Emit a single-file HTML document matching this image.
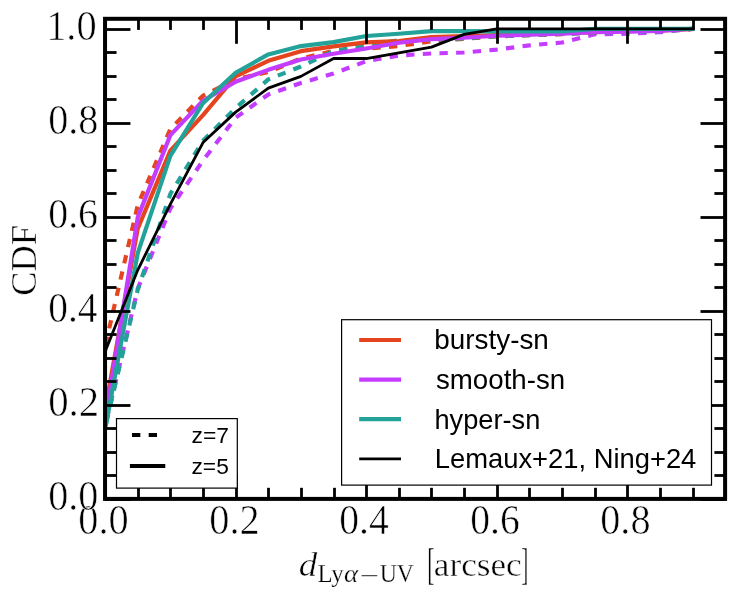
<!DOCTYPE html>
<html lang="en"><head><meta charset="utf-8"><title>CDF of Lyα–UV offsets</title>
<style>html,body{margin:0;padding:0;background:#fff}body{width:735px;height:597px;overflow:hidden}svg{display:block}.lb{font-family:"Liberation Serif",serif;fill:#000;stroke:#fff;stroke-width:0.6px}.lg{font-family:"Liberation Sans",sans-serif;fill:#000}</style></head><body>
<svg width="735" height="597" viewBox="0 0 735 597">
<rect x="0" y="0" width="735" height="597" fill="#fff"/>
<defs><clipPath id="ax"><rect x="105.05" y="18.8" width="620.0500000000001" height="480.09999999999997"/></clipPath></defs>
<g clip-path="url(#ax)" fill="none" stroke-linejoin="round">
<polyline points="105.10,346.15 137.74,205.15 170.37,129.01 203.00,95.73 235.64,79.19 268.27,72.14 300.91,58.51 333.55,50.99 366.18,48.64 398.82,46.01 431.45,41.40 464.09,38.77 496.72,36.42 529.36,35.20 561.99,34.07 594.62,32.66 627.26,31.95 659.90,31.25 692.53,28.90" stroke="#E4451F" stroke-width="4.17" stroke-dasharray="8.34 8.34" stroke-dashoffset="15.12" stroke-linecap="butt"/>
<polyline points="105.10,426.05 137.74,288.81 170.37,208.44 203.00,160.50 235.64,117.73 268.27,94.46 300.91,82.95 333.55,73.55 366.18,61.19 398.82,55.50 431.45,53.48 464.09,52.49 496.72,49.58 529.36,45.35 561.99,42.53 594.62,34.30 627.26,33.69 659.90,32.19 692.53,28.90" stroke="#C43CFF" stroke-width="4.17" stroke-dasharray="8.34 8.34" stroke-dashoffset="10.14" stroke-linecap="butt"/>
<polyline points="105.10,427.46 137.74,289.75 170.37,193.87 203.00,140.76 235.64,108.09 268.27,79.43 300.91,66.50 333.55,50.99 366.18,45.44 398.82,40.18 431.45,39.71 464.09,38.30 496.72,36.18 529.36,35.10 561.99,33.93 594.62,32.66 627.26,31.95 659.90,31.25 692.53,28.90" stroke="#22A298" stroke-width="4.17" stroke-dasharray="8.34 8.34" stroke-dashoffset="12.00" stroke-linecap="butt"/>
<polyline points="105.10,409.60 137.74,228.65 170.37,150.63 203.00,115.10 235.64,76.37 268.27,60.81 300.91,51.13 333.55,46.43 366.18,42.44 398.82,41.12 431.45,37.08 464.09,36.09 496.72,35.01 529.36,34.07 561.99,33.13 594.62,32.19 627.26,31.25 659.90,30.31 692.53,28.90" stroke="#E4451F" stroke-width="4.17" stroke-linecap="square"/>
<polyline points="105.10,421.35 137.74,217.37 170.37,135.12 203.00,100.81 235.64,81.68 268.27,69.84 300.91,59.50 333.55,53.81 366.18,48.45 398.82,42.72 431.45,39.10 464.09,37.78 496.72,35.76 529.36,34.73 561.99,33.60 594.62,32.28 627.26,31.72 659.90,31.01 692.53,28.90" stroke="#C43CFF" stroke-width="4.17" stroke-linecap="square"/>
<polyline points="105.10,429.34 137.74,253.09 170.37,155.80 203.00,103.11 235.64,72.75 268.27,54.42 300.91,46.10 333.55,42.11 366.18,36.04 398.82,33.74 431.45,31.06 464.09,31.06 496.72,31.39 529.36,31.48 561.99,31.48 594.62,28.90 627.26,28.90 659.90,28.90 692.53,28.90" stroke="#22A298" stroke-width="4.17" stroke-linecap="square"/>
<polyline points="105.10,351.79 137.74,270.01 170.37,204.21 203.00,142.55 235.64,112.14 268.27,88.12 300.91,76.37 333.55,58.51 366.18,58.51 398.82,52.82 431.45,47.14 464.09,34.40 496.72,28.90 529.36,28.90 561.99,28.90 594.62,28.90 627.26,28.90 659.90,28.90 692.53,28.90" stroke="#000" stroke-width="2.78" stroke-linecap="square"/>
</g>
<g stroke="#000" stroke-width="2.8" fill="none">
<line x1="105.50" y1="498.9" x2="105.50" y2="473.9"/>
<line x1="105.50" y1="18.8" x2="105.50" y2="43.8"/>
<line x1="138.50" y1="498.9" x2="138.50" y2="487.79999999999995"/>
<line x1="138.50" y1="18.8" x2="138.50" y2="29.9"/>
<line x1="170.50" y1="498.9" x2="170.50" y2="487.79999999999995"/>
<line x1="170.50" y1="18.8" x2="170.50" y2="29.9"/>
<line x1="203.50" y1="498.9" x2="203.50" y2="487.79999999999995"/>
<line x1="203.50" y1="18.8" x2="203.50" y2="29.9"/>
<line x1="236.50" y1="498.9" x2="236.50" y2="473.9"/>
<line x1="236.50" y1="18.8" x2="236.50" y2="43.8"/>
<line x1="268.50" y1="498.9" x2="268.50" y2="487.79999999999995"/>
<line x1="268.50" y1="18.8" x2="268.50" y2="29.9"/>
<line x1="301.50" y1="498.9" x2="301.50" y2="487.79999999999995"/>
<line x1="301.50" y1="18.8" x2="301.50" y2="29.9"/>
<line x1="334.50" y1="498.9" x2="334.50" y2="487.79999999999995"/>
<line x1="334.50" y1="18.8" x2="334.50" y2="29.9"/>
<line x1="366.50" y1="498.9" x2="366.50" y2="473.9"/>
<line x1="366.50" y1="18.8" x2="366.50" y2="43.8"/>
<line x1="399.50" y1="498.9" x2="399.50" y2="487.79999999999995"/>
<line x1="399.50" y1="18.8" x2="399.50" y2="29.9"/>
<line x1="431.50" y1="498.9" x2="431.50" y2="487.79999999999995"/>
<line x1="431.50" y1="18.8" x2="431.50" y2="29.9"/>
<line x1="464.50" y1="498.9" x2="464.50" y2="487.79999999999995"/>
<line x1="464.50" y1="18.8" x2="464.50" y2="29.9"/>
<line x1="497.50" y1="498.9" x2="497.50" y2="473.9"/>
<line x1="497.50" y1="18.8" x2="497.50" y2="43.8"/>
<line x1="529.50" y1="498.9" x2="529.50" y2="487.79999999999995"/>
<line x1="529.50" y1="18.8" x2="529.50" y2="29.9"/>
<line x1="562.50" y1="498.9" x2="562.50" y2="487.79999999999995"/>
<line x1="562.50" y1="18.8" x2="562.50" y2="29.9"/>
<line x1="595.50" y1="498.9" x2="595.50" y2="487.79999999999995"/>
<line x1="595.50" y1="18.8" x2="595.50" y2="29.9"/>
<line x1="627.50" y1="498.9" x2="627.50" y2="473.9"/>
<line x1="627.50" y1="18.8" x2="627.50" y2="43.8"/>
<line x1="660.50" y1="498.9" x2="660.50" y2="487.79999999999995"/>
<line x1="660.50" y1="18.8" x2="660.50" y2="29.9"/>
<line x1="693.50" y1="498.9" x2="693.50" y2="487.79999999999995"/>
<line x1="693.50" y1="18.8" x2="693.50" y2="29.9"/>
<line x1="105.05" y1="499.50" x2="130.45" y2="499.50"/>
<line x1="725.1" y1="499.50" x2="700.50" y2="499.50"/>
<line x1="105.05" y1="475.50" x2="116.55" y2="475.50"/>
<line x1="725.1" y1="475.50" x2="714.40" y2="475.50"/>
<line x1="105.05" y1="452.50" x2="116.55" y2="452.50"/>
<line x1="725.1" y1="452.50" x2="714.40" y2="452.50"/>
<line x1="105.05" y1="428.50" x2="116.55" y2="428.50"/>
<line x1="725.1" y1="428.50" x2="714.40" y2="428.50"/>
<line x1="105.05" y1="405.50" x2="130.45" y2="405.50"/>
<line x1="725.1" y1="405.50" x2="700.50" y2="405.50"/>
<line x1="105.05" y1="381.50" x2="116.55" y2="381.50"/>
<line x1="725.1" y1="381.50" x2="714.40" y2="381.50"/>
<line x1="105.05" y1="358.50" x2="116.55" y2="358.50"/>
<line x1="725.1" y1="358.50" x2="714.40" y2="358.50"/>
<line x1="105.05" y1="334.50" x2="116.55" y2="334.50"/>
<line x1="725.1" y1="334.50" x2="714.40" y2="334.50"/>
<line x1="105.05" y1="311.50" x2="130.45" y2="311.50"/>
<line x1="725.1" y1="311.50" x2="700.50" y2="311.50"/>
<line x1="105.05" y1="287.50" x2="116.55" y2="287.50"/>
<line x1="725.1" y1="287.50" x2="714.40" y2="287.50"/>
<line x1="105.05" y1="264.50" x2="116.55" y2="264.50"/>
<line x1="725.1" y1="264.50" x2="714.40" y2="264.50"/>
<line x1="105.05" y1="240.50" x2="116.55" y2="240.50"/>
<line x1="725.1" y1="240.50" x2="714.40" y2="240.50"/>
<line x1="105.05" y1="217.50" x2="130.45" y2="217.50"/>
<line x1="725.1" y1="217.50" x2="700.50" y2="217.50"/>
<line x1="105.05" y1="193.50" x2="116.55" y2="193.50"/>
<line x1="725.1" y1="193.50" x2="714.40" y2="193.50"/>
<line x1="105.05" y1="170.50" x2="116.55" y2="170.50"/>
<line x1="725.1" y1="170.50" x2="714.40" y2="170.50"/>
<line x1="105.05" y1="146.50" x2="116.55" y2="146.50"/>
<line x1="725.1" y1="146.50" x2="714.40" y2="146.50"/>
<line x1="105.05" y1="123.50" x2="130.45" y2="123.50"/>
<line x1="725.1" y1="123.50" x2="700.50" y2="123.50"/>
<line x1="105.05" y1="99.50" x2="116.55" y2="99.50"/>
<line x1="725.1" y1="99.50" x2="714.40" y2="99.50"/>
<line x1="105.05" y1="76.50" x2="116.55" y2="76.50"/>
<line x1="725.1" y1="76.50" x2="714.40" y2="76.50"/>
<line x1="105.05" y1="52.50" x2="116.55" y2="52.50"/>
<line x1="725.1" y1="52.50" x2="714.40" y2="52.50"/>
<line x1="105.05" y1="29.50" x2="130.45" y2="29.50"/>
<line x1="725.1" y1="29.50" x2="700.50" y2="29.50"/>
</g>
<rect x="105.05" y="18.8" width="620.0500000000001" height="480.09999999999997" fill="none" stroke="#000" stroke-width="4.0" stroke-linejoin="miter"/>
<text class="lb" x="78.29" y="0" transform="translate(0,534.20) scale(1,1.006)" font-size="41.2" textLength="50.32" lengthAdjust="spacingAndGlyphs">0.0</text>
<text class="lb" x="209.29" y="0" transform="translate(0,534.20) scale(1,1.006)" font-size="41.2" textLength="50.43" lengthAdjust="spacingAndGlyphs">0.2</text>
<text class="lb" x="339.32" y="0" transform="translate(0,534.20) scale(1,1.006)" font-size="41.2" textLength="49.48" lengthAdjust="spacingAndGlyphs">0.4</text>
<text class="lb" x="470.32" y="0" transform="translate(0,534.20) scale(1,1.006)" font-size="41.2" textLength="49.47" lengthAdjust="spacingAndGlyphs">0.6</text>
<text class="lb" x="600.29" y="0" transform="translate(0,534.20) scale(1,1.006)" font-size="41.2" textLength="50.21" lengthAdjust="spacingAndGlyphs">0.8</text>
<text class="lb" x="48.19" y="0" transform="translate(0,510.30) scale(1,1.006)" font-size="41.2" textLength="50.27" lengthAdjust="spacingAndGlyphs">0.0</text>
<text class="lb" x="48.17" y="0" transform="translate(0,416.30) scale(1,1.006)" font-size="41.2" textLength="50.92" lengthAdjust="spacingAndGlyphs">0.2</text>
<text class="lb" x="48.23" y="0" transform="translate(0,322.30) scale(1,1.006)" font-size="41.2" textLength="49.22" lengthAdjust="spacingAndGlyphs">0.4</text>
<text class="lb" x="48.21" y="0" transform="translate(0,228.30) scale(1,1.006)" font-size="41.2" textLength="49.84" lengthAdjust="spacingAndGlyphs">0.6</text>
<text class="lb" x="48.19" y="0" transform="translate(0,134.30) scale(1,1.006)" font-size="41.2" textLength="50.27" lengthAdjust="spacingAndGlyphs">0.8</text>
<text class="lb" x="46.16" y="0" transform="translate(0,40.30) scale(1,1.006)" font-size="41.2" textLength="50.50" lengthAdjust="spacingAndGlyphs">1.0</text>
<text class="lb" style="stroke-width:0.45px" font-size="36.0" transform="translate(35.6,295.75) rotate(-90)" textLength="70.63" lengthAdjust="spacingAndGlyphs">CDF</text>
<text class="lb"><tspan x="298.89" y="576.30" font-size="34.0" font-style="italic" textLength="18.51" lengthAdjust="spacingAndGlyphs" style="stroke-width:0.45px">d</tspan><tspan x="317.56" y="581.90" font-size="25.2" font-style="normal" textLength="26.19" lengthAdjust="spacingAndGlyphs" style="stroke-width:0.25px">Ly</tspan><tspan x="343.99" y="581.90" font-size="25.2" font-style="italic" textLength="14.20" lengthAdjust="spacingAndGlyphs" style="stroke-width:0.25px">α</tspan><tspan x="359.89" y="583.60" font-size="25.2" font-style="normal" textLength="19.28" lengthAdjust="spacingAndGlyphs" style="stroke-width:0.25px">−</tspan><tspan x="379.73" y="581.90" font-size="25.2" font-style="normal" textLength="34.30" lengthAdjust="spacingAndGlyphs" style="stroke-width:0.25px">UV</tspan> <tspan x="427.16" y="578.50" font-size="44.3" font-style="normal" textLength="7.27" lengthAdjust="spacingAndGlyphs" style="stroke-width:0.45px">[</tspan><tspan x="433.87" y="575.90" font-size="33.6" font-style="normal" textLength="87.77" lengthAdjust="spacingAndGlyphs" style="stroke-width:0.45px">arcsec</tspan><tspan x="521.15" y="578.50" font-size="44.3" font-style="normal" textLength="7.11" lengthAdjust="spacingAndGlyphs" style="stroke-width:0.45px">]</tspan></text>
<rect x="116.5" y="418.6" width="120.8" height="69.5" fill="#fff" stroke="#000" stroke-width="1.2"/>
<line x1="132" y1="435" x2="163.2" y2="435" stroke="#000" stroke-width="4.17" stroke-dasharray="8.34 8.34"/>
<line x1="132" y1="466" x2="163.2" y2="466" stroke="#000" stroke-width="4.17" stroke-linecap="square"/>
<text class="lg" x="191.48" y="442.90" font-size="21.2" textLength="37.56" lengthAdjust="spacingAndGlyphs">z=7</text>
<text class="lg" x="191.49" y="474.40" font-size="21.2" textLength="37.32" lengthAdjust="spacingAndGlyphs">z=5</text>
<rect x="341.6" y="319.7" width="369.9" height="165.4" fill="#fff" stroke="#000" stroke-width="1.2"/>
<line x1="361.28" y1="340.00" x2="398.92" y2="340.00" stroke="#E4451F" stroke-width="4.17" stroke-linecap="square"/>
<text class="lg" x="434.39" y="349.20" font-size="27.8" textLength="114.48" lengthAdjust="spacingAndGlyphs">bursty-sn</text>
<line x1="361.28" y1="379.60" x2="398.92" y2="379.60" stroke="#C43CFF" stroke-width="4.17" stroke-linecap="square"/>
<text class="lg" x="435.97" y="388.95" font-size="27.8" textLength="129.19" lengthAdjust="spacingAndGlyphs">smooth-sn</text>
<line x1="361.28" y1="419.20" x2="398.92" y2="419.20" stroke="#22A298" stroke-width="4.17" stroke-linecap="square"/>
<text class="lg" x="434.50" y="428.70" font-size="27.8" textLength="105.79" lengthAdjust="spacingAndGlyphs">hyper-sn</text>
<line x1="360.59" y1="458.80" x2="399.61" y2="458.80" stroke="#000" stroke-width="2.78" stroke-linecap="square"/>
<text class="lg" x="434.81" y="468.45" font-size="27.8" textLength="261.54" lengthAdjust="spacingAndGlyphs">Lemaux+21, Ning+24</text>
</svg></body></html>
